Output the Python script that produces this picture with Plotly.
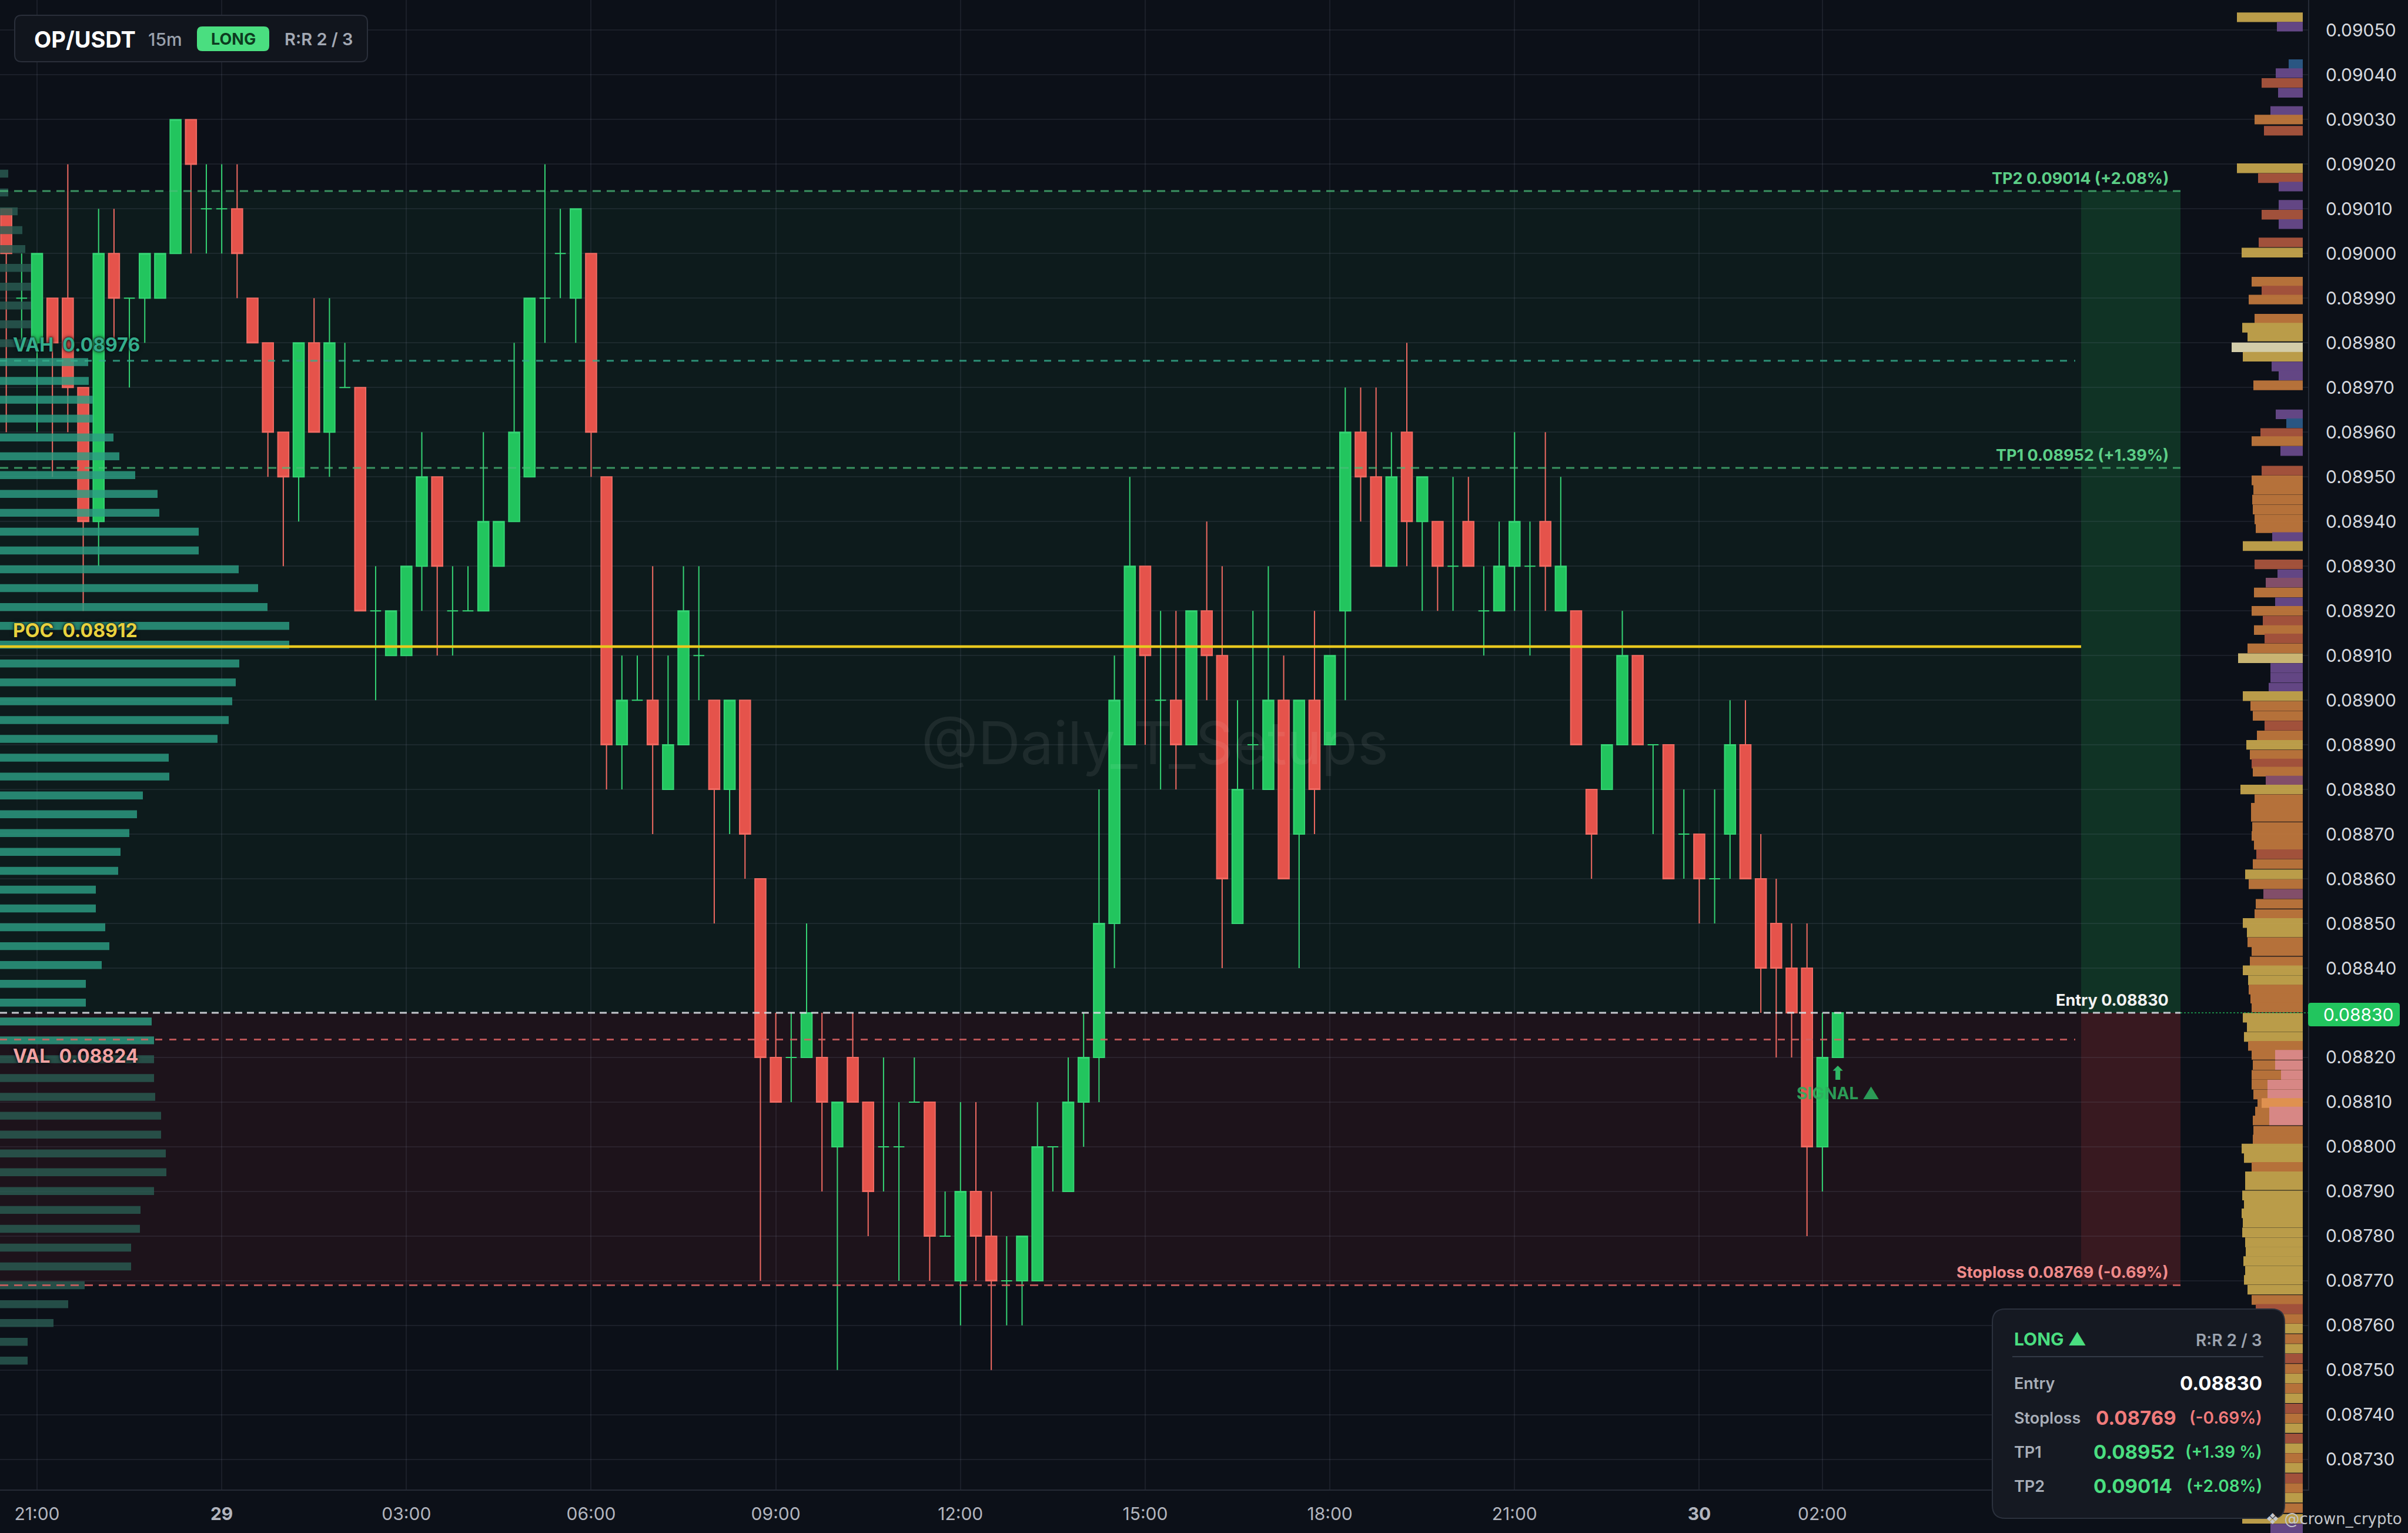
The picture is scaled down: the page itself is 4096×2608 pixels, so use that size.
import numpy as np
import pandas as pd
import plotly.graph_objects as go

W, H = 4096, 2608

# ---------------- data ----------------
SYMBOL = "OP/USDT"
TIMEFRAME = "15m"
SIDE = "LONG"
RR_TEXT = "R:R 2 / 3"
WATERMARK = "@Daily_T_Setups"
CREDIT = "❖ @crown_crypto"

START = "2025-04-28 20:30"

OPEN = [0.0901, 0.0899, 0.0898, 0.0899, 0.0899, 0.0897, 0.0894, 0.0900, 0.0899, 0.0899,
        0.0899, 0.0900, 0.0903, 0.0901, 0.0901, 0.0901, 0.0899, 0.0898, 0.0896, 0.0895,
        0.0898, 0.0896, 0.0897, 0.0897, 0.0892, 0.0891, 0.0891, 0.0893, 0.0895, 0.0892,
        0.0892, 0.0892, 0.0893, 0.0894, 0.0895, 0.0899, 0.0900, 0.0899, 0.0900, 0.0895,
        0.0889, 0.0890, 0.0890, 0.0888, 0.0889, 0.0891, 0.0890, 0.0888, 0.0890, 0.0886,
        0.0882, 0.0882, 0.0882, 0.0882, 0.0880, 0.0882, 0.0881, 0.0880, 0.0880, 0.0881,
        0.0881, 0.0878, 0.0877, 0.0879, 0.0878, 0.0877, 0.0877, 0.0877, 0.0880, 0.0879,
        0.0881, 0.0882, 0.0885, 0.0889, 0.0893, 0.0890, 0.0890, 0.0889, 0.0892, 0.0891,
        0.0885, 0.0889, 0.0888, 0.0890, 0.0887, 0.0890, 0.0889, 0.0892, 0.0896, 0.0895,
        0.0893, 0.0896, 0.0894, 0.0894, 0.0893, 0.0894, 0.0892, 0.0892, 0.0893, 0.0893,
        0.0894, 0.0892, 0.0892, 0.0888, 0.0888, 0.0889, 0.0891, 0.0889, 0.0889, 0.0887,
        0.0887, 0.0886, 0.0887, 0.0889, 0.0886, 0.0885, 0.0884, 0.0884, 0.0880, 0.0882]
HIGH = [0.0901, 0.0900, 0.0900, 0.0899, 0.0902, 0.0897, 0.0901, 0.0901, 0.0899, 0.0900,
        0.0900, 0.0903, 0.0903, 0.0902, 0.0902, 0.0902, 0.0899, 0.0898, 0.0896, 0.0898,
        0.0899, 0.0899, 0.0898, 0.0897, 0.0893, 0.0892, 0.0893, 0.0896, 0.0895, 0.0893,
        0.0893, 0.0896, 0.0894, 0.0898, 0.0899, 0.0902, 0.0901, 0.0901, 0.0900, 0.0895,
        0.0891, 0.0891, 0.0893, 0.0891, 0.0893, 0.0893, 0.0890, 0.0890, 0.0890, 0.0886,
        0.0883, 0.0883, 0.0885, 0.0883, 0.0881, 0.0883, 0.0881, 0.0882, 0.0881, 0.0882,
        0.0881, 0.0879, 0.0881, 0.0881, 0.0879, 0.0878, 0.0878, 0.0881, 0.0880, 0.0882,
        0.0883, 0.0888, 0.0891, 0.0895, 0.0893, 0.0892, 0.0892, 0.0892, 0.0894, 0.0893,
        0.0890, 0.0892, 0.0893, 0.0891, 0.0890, 0.0892, 0.0891, 0.0897, 0.0897, 0.0897,
        0.0896, 0.0898, 0.0895, 0.0894, 0.0895, 0.0895, 0.0893, 0.0894, 0.0896, 0.0894,
        0.0896, 0.0895, 0.0892, 0.0888, 0.0889, 0.0892, 0.0891, 0.0889, 0.0889, 0.0888,
        0.0887, 0.0888, 0.0890, 0.0890, 0.0887, 0.0886, 0.0885, 0.0885, 0.0883, 0.0883]
LOW = [0.0896, 0.0898, 0.0896, 0.0895, 0.0896, 0.0892, 0.0893, 0.0898, 0.0897, 0.0898,
       0.0899, 0.0900, 0.0900, 0.0900, 0.0900, 0.0899, 0.0898, 0.0895, 0.0893, 0.0894,
       0.0896, 0.0895, 0.0897, 0.0892, 0.0890, 0.0891, 0.0891, 0.0892, 0.0891, 0.0891,
       0.0892, 0.0892, 0.0893, 0.0894, 0.0895, 0.0898, 0.0899, 0.0898, 0.0895, 0.0888,
       0.0888, 0.0890, 0.0887, 0.0888, 0.0889, 0.0890, 0.0885, 0.0887, 0.0886, 0.0877,
       0.0881, 0.0881, 0.0882, 0.0879, 0.0875, 0.0881, 0.0878, 0.0879, 0.0877, 0.0881,
       0.0877, 0.0878, 0.0876, 0.0877, 0.0875, 0.0876, 0.0876, 0.0877, 0.0879, 0.0879,
       0.0880, 0.0881, 0.0884, 0.0889, 0.0889, 0.0888, 0.0888, 0.0889, 0.0890, 0.0884,
       0.0885, 0.0888, 0.0888, 0.0886, 0.0884, 0.0887, 0.0889, 0.0890, 0.0894, 0.0893,
       0.0893, 0.0893, 0.0892, 0.0892, 0.0892, 0.0893, 0.0891, 0.0892, 0.0892, 0.0891,
       0.0892, 0.0892, 0.0889, 0.0886, 0.0888, 0.0889, 0.0889, 0.0887, 0.0886, 0.0886,
       0.0885, 0.0885, 0.0886, 0.0886, 0.0883, 0.0882, 0.0882, 0.0878, 0.0879, 0.0882]
CLOSE = [0.0900, 0.0899, 0.0900, 0.0898, 0.0897, 0.0894, 0.0900, 0.0899, 0.0899, 0.0900,
         0.0900, 0.0903, 0.0902, 0.0901, 0.0901, 0.0900, 0.0898, 0.0896, 0.0895, 0.0898,
         0.0896, 0.0898, 0.0897, 0.0892, 0.0892, 0.0892, 0.0893, 0.0895, 0.0893, 0.0892,
         0.0892, 0.0894, 0.0894, 0.0896, 0.0899, 0.0899, 0.0900, 0.0901, 0.0896, 0.0889,
         0.0890, 0.0890, 0.0889, 0.0889, 0.0892, 0.0891, 0.0888, 0.0890, 0.0887, 0.0882,
         0.0881, 0.0882, 0.0883, 0.0881, 0.0881, 0.0881, 0.0879, 0.0880, 0.0880, 0.0881,
         0.0878, 0.0878, 0.0879, 0.0878, 0.0877, 0.0877, 0.0878, 0.0880, 0.0880, 0.0881,
         0.0882, 0.0885, 0.0890, 0.0893, 0.0891, 0.0890, 0.0889, 0.0892, 0.0891, 0.0886,
         0.0888, 0.0889, 0.0890, 0.0886, 0.0890, 0.0888, 0.0891, 0.0896, 0.0895, 0.0893,
         0.0895, 0.0894, 0.0895, 0.0893, 0.0893, 0.0893, 0.0892, 0.0893, 0.0894, 0.0893,
         0.0893, 0.0893, 0.0889, 0.0887, 0.0889, 0.0891, 0.0889, 0.0889, 0.0886, 0.0887,
         0.0886, 0.0886, 0.0889, 0.0886, 0.0884, 0.0884, 0.0883, 0.0880, 0.0882, 0.0883]

ENTRY = 0.08830
STOPLOSS = 0.08769
TP1 = 0.08952
TP2 = 0.09014
POC = 0.08912
VAH = 0.08976
VAL = 0.08824
SL_PCT = "-0.69%"
TP1_PCT = "+1.39%"
TP2_PCT = "+2.08%"
TP1_PCT_BOX = "+1.39 %"

# session volume profile (left), bins from bottom to top
PROFILE_LOW, PROFILE_HIGH = 0.0875, 0.0902
PROFILE_VOL = [47, 47, 91, 116, 144, 223, 223, 238, 239, 262,
               283, 282, 274, 274, 264, 262, 262, 262, 258, 146,
               146, 173, 186, 179, 163, 163, 201, 205, 220, 233,
               243, 288, 287, 370, 389, 395, 401, 407, 492, 492,
               455, 439, 406, 338, 338, 271, 268, 230, 203, 193,
               158, 158, 151, 150, 55, 53, 53, 53, 53, 43,
               38, 30, 14, 14]

# heat volume strip (right)
HEAT_PRICE = [0.090529, 0.090508, 0.090424, 0.090404, 0.090382, 0.090360, 0.090319, 0.090300, 0.090275, 0.090191,
              0.090169, 0.090150, 0.090109, 0.090087, 0.090066, 0.090025, 0.090002, 0.089937, 0.089917, 0.089897,
              0.089854, 0.089834, 0.089814, 0.089790, 0.089769, 0.089747, 0.089727, 0.089705, 0.089640, 0.089620,
              0.089598, 0.089580, 0.089558, 0.089514, 0.089492, 0.089471, 0.089449, 0.089427, 0.089405, 0.089385,
              0.089365, 0.089345, 0.089304, 0.089282, 0.089263, 0.089241, 0.089219, 0.089200, 0.089178, 0.089157,
              0.089138, 0.089116, 0.089094, 0.089072, 0.089050, 0.089028, 0.089009, 0.088987, 0.088965, 0.088943,
              0.088921, 0.088900, 0.088878, 0.088858, 0.088840, 0.088820, 0.088800, 0.088778, 0.088759, 0.088739,
              0.088716, 0.088696, 0.088676, 0.088655, 0.088633, 0.088610, 0.088588, 0.088566, 0.088544, 0.088521,
              0.088501, 0.088480, 0.088458, 0.088438, 0.088415, 0.088395, 0.088373, 0.088352, 0.088332, 0.088312,
              0.088289, 0.088268, 0.088246, 0.088226, 0.088206, 0.088183, 0.088161, 0.088139, 0.088117, 0.088098,
              0.088079, 0.088059, 0.088036, 0.088016, 0.087996, 0.087975, 0.087955, 0.087934, 0.087914, 0.087891,
              0.087871, 0.087851, 0.087830, 0.087808, 0.087786, 0.087765, 0.087744, 0.087722, 0.087702, 0.087680,
              0.087657, 0.087637, 0.087615, 0.087593, 0.087570, 0.087548, 0.087526, 0.087503, 0.087481, 0.087459,
              0.087437, 0.087414, 0.087392, 0.087370, 0.087347, 0.087325, 0.087303, 0.087281, 0.087258, 0.087236,
              0.087214, 0.087191, 0.087167, 0.087145]
HEAT_VOL = [112, 44, 24, 46, 70, 42, 55, 82, 66, 112,
            76, 41, 41, 70, 41, 75, 104, 87, 70, 92,
            82, 103, 94, 121, 102, 53, 41, 84, 46, 28,
            72, 87, 38, 70, 87, 84, 86, 85, 82, 80,
            52, 102, 82, 43, 63, 83, 47, 87, 68, 83,
            65, 94, 110, 55, 55, 58, 102, 89, 85, 65,
            78, 96, 90, 87, 85, 63, 106, 82, 88, 88,
            86, 87, 83, 79, 85, 98, 92, 67, 80, 82,
            102, 95, 94, 87, 90, 102, 93, 92, 89, 87,
            102, 95, 100, 93, 87, 85, 87, 87, 84, 77,
            81, 85, 84, 85, 104, 100, 87, 98, 98, 103,
            100, 104, 102, 103, 98, 97, 101, 98, 100, 94,
            87, 80, 90, 95, 85, 95, 80, 90, 95, 85,
            95, 80, 90, 95, 80, 90, 85, 95, 80, 90,
            95, 85, 103, 55]
HEAT_TONE = ["Y", "P", "B", "P", "R", "P", "P", "O", "R", "Y",
             "R", "P", "P", "R", "P", "R", "Y", "O", "R", "O",
             "O", "Y", "Y", "W", "Y", "P", "P", "O", "P", "B",
             "R", "O", "P", "R", "O", "O", "O", "O", "O", "O",
             "P", "Y", "R", "P", "M", "O", "P", "O", "R", "O",
             "R", "O", "L", "P", "P", "P", "Y", "O", "O", "R",
             "O", "Y", "O", "R", "O", "M", "Y", "O", "O", "O",
             "O", "O", "O", "R", "O", "Y", "O", "M", "O", "O",
             "Y", "Y", "O", "O", "O", "Y", "Y", "O", "O", "O",
             "Y", "Y", "Y", "O", "O", "O", "O", "O", "O", "O",
             "O", "O", "O", "O", "Y", "Y", "O", "Y", "Y", "Y",
             "Y", "Y", "Y", "Y", "Y", "Y", "Y", "Y", "Y", "Y",
             "O", "R", "O", "Y", "O", "Y", "R", "O", "Y", "O",
             "Y", "R", "O", "Y", "R", "Y", "O", "Y", "R", "O",
             "Y", "O", "Y", "P"]
ACCENT_PRICE = [0.088206, 0.088183, 0.088161, 0.088139, 0.088117, 0.088098, 0.088079, 0.088059]
ACCENT_VOL = [47, 47, 37, 60, 60, 70, 57, 57]
ACCENT_TONE = ["K", "K", "K", "K", "K", "LO", "K", "K"]

TIME_TICKS = ["2025-04-28 21:00", "2025-04-29 00:00", "2025-04-29 03:00", "2025-04-29 06:00",
              "2025-04-29 09:00", "2025-04-29 12:00", "2025-04-29 15:00", "2025-04-29 18:00",
              "2025-04-29 21:00", "2025-04-30 00:00", "2025-04-30 02:00"]
TIME_LABELS = ["21:00", "<b>29</b>", "03:00", "06:00", "09:00", "12:00", "15:00", "18:00",
               "21:00", "<b>30</b>", "02:00"]
PRICE_TICKS = [round(0.0873 + 0.0001 * i, 5) for i in range(33)]

# ---------------- styling / geometry ----------------
BG = "#0c1018"
GRID = "rgba(130,140,160,0.13)"
FONT = "Inter, Roboto, 'DejaVu Sans', sans-serif"
UP_FILL, UP_LINE = "#22c55e", "#35d474"
DN_FILL, DN_LINE = "#e5534b", "#f06a62"
TONES = {"Y": "#c9a84e", "W": "#e4dcb6", "L": "#d9c27a", "O": "#c47a3d", "R": "#ae573f",
         "P": "#6b4b8e", "B": "#2d5d8c", "M": "#8c5470", "K": "#da898c", "LO": "#e39452"}
HALO = "0px 0px 6px #0a0d12, 0px 0px 3px #0a0d12"

PLOT_RIGHT = 3926          # px: price axis line
AXIS_BOTTOM = 2534         # px: time axis line
PX_PER_PRICE = 759800.0    # px per 1.0 price unit
Y_TOP = 0.0905677
Y_BOT_MAIN = Y_TOP - AXIS_BOTTOM / PX_PER_PRICE
Y_BOT_FULL = Y_TOP - H / PX_PER_PRICE
PX_PER_MIN = 26.18 / 15.0
T_REF = pd.Timestamp("2025-04-28 21:00")
X0 = T_REF - pd.Timedelta(minutes=63 / PX_PER_MIN)
X1 = T_REF + pd.Timedelta(minutes=(PLOT_RIGHT - 63) / PX_PER_MIN)

def px(x):
    return x / W

def py(y):
    return 1 - y / H

TIMES = pd.date_range(START, periods=len(OPEN), freq="15min")
n = len(OPEN)
up_idx = [i for i in range(n) if CLOSE[i] >= OPEN[i]]
dn_idx = [i for i in range(n) if CLOSE[i] < OPEN[i]]

fig = go.Figure()

def candles(idx, fill, line):
    style = dict(fillcolor=fill, line=dict(color=line, width=2))
    return go.Candlestick(
        x=[TIMES[i] for i in idx],
        open=[OPEN[i] for i in idx], high=[HIGH[i] for i in idx],
        low=[LOW[i] for i in idx], close=[CLOSE[i] for i in idx],
        increasing=style, decreasing=style, whiskerwidth=0,
        xaxis="x", yaxis="y", showlegend=False, hoverinfo="skip")

fig.add_trace(candles(up_idx, UP_FILL, UP_LINE))
fig.add_trace(candles(dn_idx, DN_FILL, DN_LINE))

# left volume profile
nb = len(PROFILE_VOL)
step = (PROFILE_HIGH - PROFILE_LOW) / nb
centers = [PROFILE_LOW + (k + 0.5) * step for k in range(nb)]
pcols = []
for c in centers:
    in_va = (c + step / 2 >= VAL) and (c - step / 2 <= VAH)
    pcols.append("rgba(44,158,130,0.82)" if in_va else "rgba(42,92,82,0.82)")
fig.add_trace(go.Bar(x=PROFILE_VOL, y=centers, orientation="h", width=step * 0.42,
                     marker=dict(color=pcols, line=dict(width=0)),
                     xaxis="x2", yaxis="y", showlegend=False, hoverinfo="skip"))

# right heat strip
fig.add_trace(go.Bar(x=HEAT_VOL, y=HEAT_PRICE, orientation="h", width=0.0000216,
                     marker=dict(color=[TONES[t] for t in HEAT_TONE], line=dict(width=0)),
                     opacity=0.92, xaxis="x3", yaxis="y2", showlegend=False, hoverinfo="skip"))
fig.add_trace(go.Bar(x=ACCENT_VOL, y=ACCENT_PRICE, orientation="h", width=0.0000216,
                     marker=dict(color=[TONES[t] for t in ACCENT_TONE], line=dict(width=0)),
                     opacity=0.92, xaxis="x3", yaxis="y2", showlegend=False, hoverinfo="skip"))

shapes = []

def hrect(x0, x1, y0, y1, color, layer="below"):
    shapes.append(dict(type="rect", xref="paper", yref="y", x0=px(x0), x1=px(x1), y0=y0, y1=y1,
                       fillcolor=color, line=dict(width=0), layer=layer))

def hline(x0, x1, y, color, width, dash="solid", yref="y"):
    shapes.append(dict(type="line", xref="paper", yref=yref, x0=px(x0), x1=px(x1), y0=y, y1=y,
                       line=dict(color=color, width=width, dash=dash), layer="above"))

def rrect(x0, y0, x1, y1, r, fill, line_color=None, lw=2):
    X = lambda v: px(v)
    Y = lambda v: py(v)
    path = (f"M {X(x0 + r)},{Y(y0)} L {X(x1 - r)},{Y(y0)} Q {X(x1)},{Y(y0)} {X(x1)},{Y(y0 + r)} "
            f"L {X(x1)},{Y(y1 - r)} Q {X(x1)},{Y(y1)} {X(x1 - r)},{Y(y1)} "
            f"L {X(x0 + r)},{Y(y1)} Q {X(x0)},{Y(y1)} {X(x0)},{Y(y1 - r)} "
            f"L {X(x0)},{Y(y0 + r)} Q {X(x0)},{Y(y0)} {X(x0 + r)},{Y(y0)} Z")
    shapes.append(dict(type="path", xref="paper", yref="paper", path=path, fillcolor=fill,
                       line=dict(color=line_color or fill, width=lw if line_color else 0), layer="above"))

# trade zones
hrect(0, 3709, ENTRY, TP2, "rgba(34,197,94,0.058)")
hrect(0, 3709, STOPLOSS, ENTRY, "rgba(239,68,68,0.075)")
hrect(3540, 3709, ENTRY, TP2, "rgba(34,197,94,0.15)")
hrect(3540, 3709, STOPLOSS, ENTRY, "rgba(239,68,68,0.13)")

# levels
hline(0, 3709, TP2, "rgba(74,190,120,0.75)", 3, "14px,10px")
hline(0, 3709, TP1, "rgba(74,190,120,0.75)", 3, "14px,10px")
hline(0, 3530, VAH, "rgba(52,172,140,0.8)", 3, "12px,12px")
hline(0, 3540, POC, "#e8c81e", 4.5)
hline(0, 3709, ENTRY, "rgba(215,220,225,0.9)", 3, "12px,8px")
hline(3709, PLOT_RIGHT, ENTRY, "rgba(34,197,94,0.85)", 1.5, "dot")
hline(0, 3530, VAL, "rgba(214,96,96,0.85)", 3, "12px,12px")
hline(0, 3709, STOPLOSS, "rgba(214,96,96,0.85)", 3, "14px,10px")

# header box & badge
rrect(25, 26, 625, 105, 12, "#11151d", "#2a2f3a")
rrect(335, 45, 458, 87, 9, "#4ade80")
# info box
rrect(3389, 2227, 3886, 2583, 22, "#151922", "#2b313d")
shapes.append(dict(type="line", xref="paper", yref="paper", x0=px(3423), x1=px(3850),
                   y0=py(2308), y1=py(2308), line=dict(color="#333a47", width=2), layer="above"))
# current price tag
rrect(3926, 1706, 4082, 1746, 5, "#22c55e")

annotations = []

def ann(text, x, y, size, color, xanchor="left", yanchor="middle", weight="normal",
        xref="paper", yref="paper", yshift=0, family=FONT, shadow=None):
    f = dict(size=size, color=color, family=family, weight=weight)
    if shadow:
        f["shadow"] = shadow
    annotations.append(dict(text=text, x=x, y=y, xref=xref, yref=yref, xanchor=xanchor,
                            yanchor=yanchor, showarrow=False, yshift=yshift, font=f))

# watermark
ann(WATERMARK, px(1964), py(1263), 100, "rgba(255,255,255,0.07)", xanchor="center")

# header
ann(SYMBOL, px(56), py(67), 38, "#ffffff", weight="bold")
ann(TIMEFRAME, px(250), py(67), 30, "#9aa1ad", weight=500)
ann(SIDE, px(396.5), py(66), 27, "#0d3b20", xanchor="center", weight="bold")
ann(RR_TEXT, px(482), py(67), 29, "#a3a9b4", weight=600)

# level labels
ann(f"VAH  {VAH:.5f}", px(20), VAH, 32, "#33ad8c", yanchor="bottom", weight="bold", yref="y",
    yshift=6, shadow=HALO)
ann(f"POC  {POC:.5f}", px(20), POC, 32, "#e8d13e", yanchor="bottom", weight="bold", yref="y",
    yshift=6, shadow=HALO)
ann(f"VAL  {VAL:.5f}", px(20), VAL, 32, "#f2a2a2", yanchor="top", weight="bold", yref="y",
    yshift=-6, shadow=HALO)
ann(f"TP2 {TP2:.5f} ({TP2_PCT})", px(3691), TP2, 27, "#5ccf87", xanchor="right", yanchor="bottom",
    weight="bold", yref="y", yshift=3)
ann(f"TP1 {TP1:.5f} ({TP1_PCT})", px(3691), TP1, 27, "#5ccf87", xanchor="right", yanchor="bottom",
    weight="bold", yref="y", yshift=3)
ann(f"Entry {ENTRY:.5f}", px(3691), ENTRY, 27, "#f2f2f2", xanchor="right", yanchor="bottom",
    weight="bold", yref="y", yshift=3)
ann(f"Stoploss {STOPLOSS:.5f} ({SL_PCT})", px(3691), STOPLOSS, 27, "#f08a8a", xanchor="right",
    yanchor="bottom", weight="bold", yref="y", yshift=3)

# signal marker under last candle
ann("<b>⬆</b>", TIMES[-1], LOW[-1], 32, "#2fb866", xanchor="center", yanchor="top", xref="x", yref="y",
    yshift=-6, family="'DejaVu Sans', sans-serif")
ann("SIGNAL ▲", TIMES[-1], LOW[-1], 28, "rgba(46,175,95,0.9)", xanchor="center", yanchor="top",
    weight="bold", xref="x", yref="y", yshift=-42)

# current price tag text
ann(f"{ENTRY:.5f}", px(3950), py(1726), 30, "#ffffff")

# info box
ann(f"{SIDE} ▲", px(3424), py(2278), 30, "#4ade80", weight="bold")
ann(RR_TEXT, px(3850), py(2280), 28, "#9ca3af", xanchor="right", weight=600)
rows_y = [2353, 2412, 2470, 2528]
for lbl, yy in zip(["Entry", "Stoploss", "TP1", "TP2"], rows_y):
    ann(lbl, px(3424), py(yy), 27, "#a8aeb8", weight=600)
ann(f"{ENTRY:.5f}", px(3850), py(2353), 33, "#ffffff", xanchor="right", weight="bold")
ann(f"{STOPLOSS:.5f}", px(3704), py(2412), 33, "#f07b7b", xanchor="right", weight="bold")
ann(f"({SL_PCT})", px(3850), py(2412), 28, "#f07b7b", xanchor="right", weight=600)
ann(f"{TP1:.5f}", px(3701), py(2470), 33, "#4ade80", xanchor="right", weight="bold")
ann(f"({TP1_PCT_BOX})", px(3850), py(2470), 28, "#4ade80", xanchor="right", weight=600)
ann(f"{TP2:.5f}", px(3697), py(2528), 33, "#4ade80", xanchor="right", weight="bold")
ann(f"({TP2_PCT})", px(3850), py(2528), 28, "#4ade80", xanchor="right", weight=600)

ann(CREDIT, px(4088), py(2584), 26, "#c4c6ca", xanchor="right", family="'DejaVu Sans', sans-serif")

ytick_vals = [v for v in PRICE_TICKS if abs(v - ENTRY) > 1e-9]

fig.update_layout(
    width=W, height=H, margin=dict(l=0, r=0, t=0, b=0, pad=0),
    paper_bgcolor=BG, plot_bgcolor="rgba(0,0,0,0)",
    font=dict(family=FONT, color="#d1d4dc"),
    showlegend=False, barmode="overlay", boxgap=0.29, boxgroupgap=0,
    shapes=shapes, annotations=annotations,
    xaxis=dict(domain=[0, PLOT_RIGHT / W], range=[X0, X1], anchor="y", type="date",
               tickvals=TIME_TICKS, ticktext=TIME_LABELS, tickfont=dict(size=30, color="#b2b5be"),
               ticks="outside", ticklen=14, tickcolor="rgba(0,0,0,0)",
               showgrid=True, gridcolor=GRID, gridwidth=2, showline=True, linecolor="#262b36",
               linewidth=2, zeroline=False, rangeslider=dict(visible=False), fixedrange=True),
    yaxis=dict(domain=[1 - AXIS_BOTTOM / H, 1], range=[Y_BOT_MAIN, Y_TOP], anchor="x", side="right",
               tickvals=ytick_vals, ticktext=[f"{v:.5f}" for v in ytick_vals],
               tickfont=dict(size=30, color="#d6d9df"), ticks="outside", ticklen=22,
               tickcolor="rgba(0,0,0,0)", showgrid=True, gridcolor=GRID, gridwidth=2,
               showline=True, linecolor="#262b36", linewidth=2, zeroline=False, fixedrange=True),
    xaxis2=dict(overlaying="x", range=[0, PLOT_RIGHT], visible=False, anchor="y", fixedrange=True),
    xaxis3=dict(domain=[3717 / W, 3917 / W], range=[200, 0], visible=False, anchor="y2", fixedrange=True),
    yaxis2=dict(domain=[0, 1], range=[Y_BOT_FULL, Y_TOP], visible=False, anchor="x3", fixedrange=True),
)

fig.write_html("out.html", config={"displayModeBar": False},
               post_script="document.body.style.margin='0';document.body.style.overflow='hidden';")
